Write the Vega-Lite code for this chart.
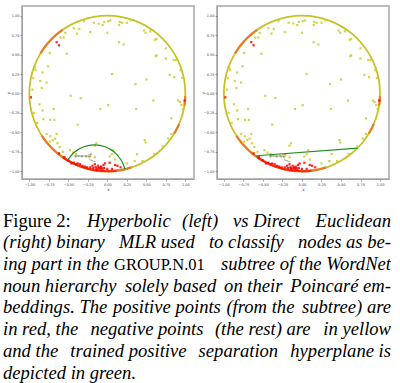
{
"$schema":"https://vega.github.io/schema/vega-lite/v6.json",
"padding":{"left":3,"top":5,"right":0,"bottom":0},
"background":"white",
"datasets":{
"pts":[
{"x":-0.43,"y":0.84,"c":"neg"},{"x":-0.36,"y":0.83,"c":"neg"},{"x":-0.39,"y":0.77,"c":"neg"},{"x":-0.22,"y":0.79,"c":"neg"},{"x":-0.17,"y":0.91,"c":"neg"},{"x":-0.11,"y":0.9,"c":"neg"},{"x":-0.06,"y":0.88,"c":"neg"},{"x":-0.04,"y":0.92,"c":"neg"},{"x":0.01,"y":0.93,"c":"neg"},{"x":0.04,"y":0.94,"c":"neg"},{"x":0.0,"y":0.78,"c":"neg"},{"x":0.15,"y":0.88,"c":"neg"},{"x":0.16,"y":0.92,"c":"neg"},{"x":0.19,"y":0.91,"c":"neg"},{"x":0.25,"y":0.91,"c":"neg"},{"x":0.15,"y":0.66,"c":"neg"},{"x":0.21,"y":0.63,"c":"neg"},{"x":0.47,"y":0.81,"c":"neg"},{"x":0.49,"y":0.78,"c":"neg"},{"x":0.61,"y":0.69,"c":"neg"},{"x":0.63,"y":0.7,"c":"neg"},{"x":-0.54,"y":0.78,"c":"neg"},{"x":-0.6,"y":0.72,"c":"neg"},{"x":-0.56,"y":0.72,"c":"neg"},{"x":0.63,"y":0.49,"c":"neg"},{"x":0.62,"y":0.48,"c":"neg"},{"x":0.75,"y":0.58,"c":"neg"},{"x":0.75,"y":0.45,"c":"neg"},{"x":0.85,"y":0.43,"c":"neg"},{"x":0.88,"y":0.43,"c":"neg"},{"x":-0.74,"y":0.52,"c":"neg"},{"x":-0.52,"y":0.51,"c":"neg"},{"x":-0.76,"y":0.35,"c":"neg"},{"x":-0.83,"y":0.27,"c":"neg"},{"x":-0.78,"y":0.14,"c":"neg"},{"x":-0.86,"y":0.16,"c":"neg"},{"x":-0.84,"y":0.07,"c":"neg"},{"x":0.06,"y":0.25,"c":"neg"},{"x":0.36,"y":0.12,"c":"neg"},{"x":0.5,"y":0.18,"c":"neg"},{"x":0.8,"y":0.24,"c":"neg"},{"x":0.86,"y":0.21,"c":"neg"},{"x":-0.47,"y":-0.03,"c":"neg"},{"x":-0.34,"y":-0.06,"c":"neg"},{"x":-0.09,"y":-0.2,"c":"neg"},{"x":0.01,"y":-0.15,"c":"neg"},{"x":-0.87,"y":-0.14,"c":"neg"},{"x":-0.83,"y":-0.22,"c":"neg"},{"x":-0.69,"y":-0.2,"c":"neg"},{"x":-0.82,"y":-0.33,"c":"neg"},{"x":-0.73,"y":-0.34,"c":"neg"},{"x":-0.68,"y":-0.34,"c":"neg"},{"x":-0.38,"y":-0.4,"c":"neg"},{"x":0.37,"y":-0.2,"c":"neg"},{"x":0.59,"y":-0.09,"c":"neg"},{"x":0.82,"y":-0.32,"c":"neg"},{"x":0.91,"y":-0.09,"c":"neg"},{"x":0.93,"y":-0.11,"c":"neg"},{"x":0.95,"y":-0.15,"c":"neg"},{"x":-0.78,"y":-0.52,"c":"neg"},{"x":-0.73,"y":-0.55,"c":"neg"},{"x":-0.67,"y":-0.58,"c":"neg"},{"x":-0.65,"y":-0.52,"c":"neg"},{"x":-0.7,"y":-0.6,"c":"neg"},{"x":-0.64,"y":-0.64,"c":"neg"},{"x":-0.61,"y":-0.69,"c":"neg"},{"x":-0.74,"y":-0.62,"c":"neg"},{"x":0.48,"y":-0.6,"c":"neg"},{"x":0.49,"y":-0.63,"c":"neg"},{"x":0.38,"y":-0.78,"c":"neg"},{"x":0.82,"y":-0.52,"c":"neg"},{"x":0.78,"y":-0.58,"c":"neg"},{"x":0.71,"y":-0.68,"c":"neg"},{"x":-0.57,"y":-0.75,"c":"neg"},{"x":-0.48,"y":-0.73,"c":"neg"},{"x":-0.44,"y":-0.76,"c":"neg"},{"x":-0.4,"y":-0.78,"c":"neg"},{"x":-0.14,"y":-0.64,"c":"neg"},{"x":-0.16,"y":-0.67,"c":"neg"},{"x":-0.21,"y":-0.78,"c":"neg"},{"x":-0.16,"y":-0.82,"c":"neg"},{"x":-0.23,"y":-0.82,"c":"neg"},{"x":-0.27,"y":-0.81,"c":"neg"},{"x":0.03,"y":-0.81,"c":"neg"},{"x":0.08,"y":-0.73,"c":"neg"},{"x":0.06,"y":-0.78,"c":"neg"},{"x":0.35,"y":-0.87,"c":"neg"},{"x":0.25,"y":-0.9,"c":"neg"},{"x":0.1,"y":-0.85,"c":"neg"},{"x":-0.95,"y":0.2,"c":"neg"},{"x":-0.96,"y":0.05,"c":"neg"},{"x":-0.94,"y":-0.25,"c":"neg"},{"x":-0.92,"y":0.3,"c":"neg"},{"x":0.96,"y":0.2,"c":"neg"},{"x":0.94,"y":0.3,"c":"neg"},{"x":0.97,"y":-0.2,"c":"neg"},{"x":0.3,"y":0.94,"c":"neg"},{"x":-0.3,"y":0.93,"c":"neg"},{"x":0.55,"y":0.8,"c":"neg"},{"x":-0.9,"y":-0.38,"c":"neg"},{"x":0.6,"y":-0.78,"c":"neg"},{"x":0.45,"y":-0.87,"c":"neg"},{"x":-0.93,"y":0.33,"c":"neg"},
{"x":-0.5,"y":-0.86,"c":"pos"},{"x":-0.46,"y":-0.9,"c":"pos"},{"x":-0.43,"y":-0.89,"c":"pos"},{"x":-0.4,"y":-0.91,"c":"pos"},{"x":-0.38,"y":-0.9,"c":"pos"},{"x":-0.35,"y":-0.91,"c":"pos"},{"x":-0.32,"y":-0.93,"c":"pos"},{"x":-0.29,"y":-0.94,"c":"pos"},{"x":-0.26,"y":-0.95,"c":"pos"},{"x":-0.22,"y":-0.95,"c":"pos"},{"x":-0.19,"y":-0.93,"c":"pos"},{"x":-0.18,"y":-0.96,"c":"pos"},{"x":-0.16,"y":-0.91,"c":"pos"},{"x":-0.15,"y":-0.95,"c":"pos"},{"x":-0.14,"y":-0.96,"c":"pos"},{"x":-0.13,"y":-0.98,"c":"pos"},{"x":-0.12,"y":-0.93,"c":"pos"},{"x":-0.11,"y":-0.96,"c":"pos"},{"x":-0.1,"y":-0.95,"c":"pos"},{"x":-0.09,"y":-0.97,"c":"pos"},{"x":-0.08,"y":-0.94,"c":"pos"},{"x":-0.07,"y":-0.96,"c":"pos"},{"x":-0.06,"y":-0.98,"c":"pos"},{"x":-0.05,"y":-0.92,"c":"pos"},{"x":-0.04,"y":-0.96,"c":"pos"},{"x":-0.03,"y":-0.9,"c":"pos"},{"x":0.0,"y":-0.97,"c":"pos"},{"x":0.03,"y":-0.89,"c":"pos"},{"x":0.06,"y":-0.97,"c":"pos"},{"x":0.1,"y":-0.92,"c":"pos"},{"x":0.13,"y":-0.93,"c":"pos"},{"x":0.17,"y":-0.95,"c":"pos"},{"x":-0.55,"y":-0.82,"c":"pos"},{"x":-0.62,"y":-0.77,"c":"pos"},{"x":-0.65,"y":0.66,"c":"pos"},{"x":-0.62,"y":0.62,"c":"pos"},{"x":0.99,"y":-0.09,"c":"pos"},{"x":-0.98,"y":-0.05,"c":"pos"}
],
"ring":[
{"i":0,"x":1,"y":0},{"i":1,"x":0.985,"y":0.174},{"i":2,"x":0.94,"y":0.342},{"i":3,"x":0.866,"y":0.5},{"i":4,"x":0.766,"y":0.643},{"i":5,"x":0.643,"y":0.766},{"i":6,"x":0.5,"y":0.866},{"i":7,"x":0.342,"y":0.94},{"i":8,"x":0.174,"y":0.985},{"i":9,"x":0,"y":1},{"i":10,"x":-0.174,"y":0.985},{"i":11,"x":-0.342,"y":0.94},{"i":12,"x":-0.5,"y":0.866},{"i":13,"x":-0.643,"y":0.766},{"i":14,"x":-0.766,"y":0.643},{"i":15,"x":-0.866,"y":0.5},{"i":16,"x":-0.94,"y":0.342},{"i":17,"x":-0.985,"y":0.174},{"i":18,"x":-1,"y":0},{"i":19,"x":-0.985,"y":-0.174},{"i":20,"x":-0.94,"y":-0.342},{"i":21,"x":-0.866,"y":-0.5},{"i":22,"x":-0.766,"y":-0.643},{"i":23,"x":-0.643,"y":-0.766},{"i":24,"x":-0.5,"y":-0.866},{"i":25,"x":-0.342,"y":-0.94},{"i":26,"x":-0.174,"y":-0.985},{"i":27,"x":0,"y":-1},{"i":28,"x":0.174,"y":-0.985},{"i":29,"x":0.342,"y":-0.94},{"i":30,"x":0.5,"y":-0.866},{"i":31,"x":0.643,"y":-0.766},{"i":32,"x":0.766,"y":-0.643},{"i":33,"x":0.866,"y":-0.5},{"i":34,"x":0.94,"y":-0.342},{"i":35,"x":0.985,"y":-0.174},{"i":36,"x":1,"y":0}
],
"arcs":[
{"s":"a","i":0,"x":-0.574,"y":0.819},{"s":"a","i":1,"x":-0.643,"y":0.766},{"s":"a","i":2,"x":-0.707,"y":0.707},{"s":"a","i":3,"x":-0.766,"y":0.643},{"s":"a","i":4,"x":-0.819,"y":0.574},{"s":"a","i":5,"x":-0.857,"y":0.515},
{"s":"b","i":0,"x":-0.839,"y":-0.545},{"s":"b","i":1,"x":-0.766,"y":-0.643},{"s":"b","i":2,"x":-0.643,"y":-0.766},{"s":"b","i":3,"x":-0.5,"y":-0.866},{"s":"b","i":4,"x":-0.342,"y":-0.94},{"s":"b","i":5,"x":-0.174,"y":-0.985},{"s":"b","i":6,"x":0,"y":-1},{"s":"b","i":7,"x":0.174,"y":-0.985},{"s":"b","i":8,"x":0.309,"y":-0.951},
{"s":"c","i":0,"x":0.988,"y":-0.156},{"s":"c","i":1,"x":0.996,"y":-0.087},{"s":"c","i":2,"x":0.999,"y":-0.035},
{"s":"d","i":0,"x":0.857,"y":-0.515},{"s":"d","i":1,"x":0.891,"y":-0.454},{"s":"d","i":2,"x":0.921,"y":-0.391}
],
"reds":[
{"i":0,"x":-0.574,"y":-0.819},{"i":1,"x":-0.5,"y":-0.866},{"i":2,"x":-0.342,"y":-0.94},{"i":3,"x":-0.174,"y":-0.985},{"i":4,"x":0,"y":-1},{"i":5,"x":0.122,"y":-0.993}
],
"geo":[
{"i":0,"x":-0.506,"y":-0.853},{"i":1,"x":-0.422,"y":-0.756},{"i":2,"x":-0.302,"y":-0.686},{"i":3,"x":-0.165,"y":-0.662},{"i":4,"x":-0.028,"y":-0.686},{"i":5,"x":0.092,"y":-0.756},{"i":6,"x":0.181,"y":-0.862},{"i":7,"x":0.225,"y":-0.971}
],
"hyp":[{"i":0,"x":-0.586,"y":-0.801},{"i":1,"x":0.714,"y":-0.703}],
"lab":[{"x":-0.42,"y":-0.8,"t":"group.n.01"}],
"arrow":[{"x":-0.23,"y":-0.85,"x2":-0.15,"y2":-0.88}],
"cap":[
{"line":1,"p":"F","t":"Figure 2:"},
{"line":1,"p":"H","t":"Hyperbolic"},
{"line":1,"p":"M1","t":"(left)"},
{"line":1,"p":"N1","t":"vs Direct"},
{"line":1,"p":"R","t":"Euclidean"},
{"line":2,"p":"L","t":"(right) binary"},
{"line":2,"p":"M2","t":"MLR used"},
{"line":2,"p":"N2","t":"to classify"},
{"line":2,"p":"R","t":"nodes as be-"},
{"line":3,"p":"L","t":"ing part in the"},
{"line":3,"p":"G","t":"GROUP.N.01"},
{"line":3,"p":"R","t":"subtree of the WordNet"},
{"line":4,"p":"L","t":"noun hierarchy"},
{"line":4,"p":"M4","t":"solely based"},
{"line":4,"p":"N4","t":"on their"},
{"line":4,"p":"R","t":"Poincaré em-"},
{"line":5,"p":"L","t":"beddings. The"},
{"line":5,"p":"M5","t":"positive points"},
{"line":5,"p":"N5","t":"(from the"},
{"line":5,"p":"R","t":"subtree) are"},
{"line":6,"p":"L","t":"in red, the"},
{"line":6,"p":"M6","t":"negative points"},
{"line":6,"p":"N6","t":"(the rest) are"},
{"line":6,"p":"R","t":"in yellow"},
{"line":7,"p":"L","t":"and the"},
{"line":7,"p":"M7","t":"trained positive"},
{"line":7,"p":"N7","t":"separation"},
{"line":7,"p":"R","t":"hyperplane is"},
{"line":8,"p":"L","t":"depicted in green."}
]
},
"vconcat":[
{"hconcat":[
{"width":172,"height":173,
 "encoding":{
  "x":{"field":"x","type":"quantitative","scale":{"domain":[-1.094,1.111],"nice":false,"zero":false},"axis":{"values":[-1,-0.75,-0.5,-0.25,0,0.25,0.5,0.75,1],"format":".2f","title":"x"}},
  "y":{"field":"y","type":"quantitative","scale":{"domain":[-1.1,1.125],"nice":false,"zero":false},"axis":{"values":[-1,-0.75,-0.5,-0.25,0,0.25,0.5,0.75,1],"format":".2f","title":"y"}}
 },
 "layer":[
  {"data":{"name":"ring"},"mark":{"type":"line","color":"#c6c224","strokeWidth":1.8,"interpolate":"cardinal"},"encoding":{"order":{"field":"i"}}},
  {"data":{"name":"arcs"},"mark":{"type":"line","color":"#ea7a22","strokeWidth":2.2,"interpolate":"cardinal"},"encoding":{"detail":{"field":"s"},"order":{"field":"i"}}},
  {"data":{"name":"reds"},"mark":{"type":"line","color":"#f52a10","strokeWidth":2,"interpolate":"cardinal"},"encoding":{"order":{"field":"i"}}},
  {"data":{"name":"pts"},"mark":{"type":"point","shape":"square","filled":true,"size":5,"opacity":0.85},"encoding":{"color":{"field":"c","type":"nominal","scale":{"domain":["neg","pos"],"range":["#cccc30","#ff0000"]},"legend":null},"order":{"field":"c"}}},
  {"data":{"name":"geo"},"mark":{"type":"line","color":"#1f8f1f","strokeWidth":1.2,"interpolate":"cardinal"},"encoding":{"order":{"field":"i"}}},
  {"data":{"name":"lab"},"mark":{"type":"text","align":"left","baseline":"middle","fontSize":3.5,"color":"#333"},"encoding":{"text":{"field":"t"}}},
  {"data":{"name":"arrow"},"mark":{"type":"rule","color":"#666","strokeWidth":0.6},"encoding":{"x2":{"field":"x2"},"y2":{"field":"y2"}}}
 ]},
{"width":172,"height":173,
 "encoding":{
  "x":{"field":"x","type":"quantitative","scale":{"domain":[-1.088,1.115],"nice":false,"zero":false},"axis":{"values":[-1,-0.75,-0.5,-0.25,0,0.25,0.5,0.75,1],"format":".2f","title":"x"}},
  "y":{"field":"y","type":"quantitative","scale":{"domain":[-1.1,1.125],"nice":false,"zero":false},"axis":{"values":[-1,-0.75,-0.5,-0.25,0,0.25,0.5,0.75,1],"format":".2f","title":"y"}}
 },
 "layer":[
  {"data":{"name":"ring"},"mark":{"type":"line","color":"#c6c224","strokeWidth":1.8,"interpolate":"cardinal"},"encoding":{"order":{"field":"i"}}},
  {"data":{"name":"arcs"},"mark":{"type":"line","color":"#ea7a22","strokeWidth":2.2,"interpolate":"cardinal"},"encoding":{"detail":{"field":"s"},"order":{"field":"i"}}},
  {"data":{"name":"reds"},"mark":{"type":"line","color":"#f52a10","strokeWidth":2,"interpolate":"cardinal"},"encoding":{"order":{"field":"i"}}},
  {"data":{"name":"pts"},"mark":{"type":"point","shape":"square","filled":true,"size":5,"opacity":0.85},"encoding":{"color":{"field":"c","type":"nominal","scale":{"domain":["neg","pos"],"range":["#cccc30","#ff0000"]},"legend":null},"order":{"field":"c"}}},
  {"data":{"name":"hyp"},"mark":{"type":"line","color":"#1f8f1f","strokeWidth":1.2},"encoding":{"order":{"field":"i"}}},
  {"data":{"name":"lab"},"mark":{"type":"text","align":"left","baseline":"middle","fontSize":3.5,"color":"#333"},"encoding":{"text":{"field":"t"}}},
  {"data":{"name":"arrow"},"mark":{"type":"rule","color":"#666","strokeWidth":0.6},"encoding":{"x2":{"field":"x2"},"y2":{"field":"y2"}}}
 ]}
],"spacing":5},
{"width":369,"height":180,"view":{"stroke":null},
 "data":{"name":"cap"},
 "encoding":{"y":{"field":"line","type":"quantitative","scale":{"domain":[1,8],"range":[24.5,176.5],"zero":false,"nice":false},"axis":null},"text":{"field":"t"},"x":{"value":0}},
 "layer":[
  {"transform":[{"filter":"datum.p=='L'"}],"mark":{"type":"text","align":"left","baseline":"alphabetic","font":"Liberation Serif","fontStyle":"italic","fontSize":18.6,"color":"black","dx":-19}},
  {"transform":[{"filter":"datum.p=='R'"}],"mark":{"type":"text","align":"right","baseline":"alphabetic","font":"Liberation Serif","fontStyle":"italic","fontSize":18.6,"color":"black"},"encoding":{"x":{"value":"width"}}},
  {"transform":[{"filter":"datum.p=='F'"}],"mark":{"type":"text","align":"left","baseline":"alphabetic","font":"Liberation Serif","fontSize":18.6,"color":"black","dx":-19}},
  {"transform":[{"filter":"datum.p=='H'"}],"mark":{"type":"text","align":"left","baseline":"alphabetic","font":"Liberation Serif","fontStyle":"italic","fontSize":18.6,"color":"black","dx":65}},
  {"transform":[{"filter":"datum.p=='G'"}],"mark":{"type":"text","align":"left","baseline":"alphabetic","font":"Liberation Serif","fontSize":16.5,"color":"black","dx":92}},
  {"transform":[{"filter":"datum.p=='M1'"}],"mark":{"type":"text","align":"left","baseline":"alphabetic","font":"Liberation Serif","fontStyle":"italic","fontSize":18.6,"color":"black","dx":160}},
  {"transform":[{"filter":"datum.p=='N1'"}],"mark":{"type":"text","align":"left","baseline":"alphabetic","font":"Liberation Serif","fontStyle":"italic","fontSize":18.6,"color":"black","dx":211}},
  {"transform":[{"filter":"datum.p=='M2'"}],"mark":{"type":"text","align":"left","baseline":"alphabetic","font":"Liberation Serif","fontStyle":"italic","fontSize":18.6,"color":"black","dx":96.9}},
  {"transform":[{"filter":"datum.p=='N2'"}],"mark":{"type":"text","align":"left","baseline":"alphabetic","font":"Liberation Serif","fontStyle":"italic","fontSize":18.6,"color":"black","dx":186.9}},
  {"transform":[{"filter":"datum.p=='M4'"}],"mark":{"type":"text","align":"left","baseline":"alphabetic","font":"Liberation Serif","fontStyle":"italic","fontSize":18.6,"color":"black","dx":102.9}},
  {"transform":[{"filter":"datum.p=='N4'"}],"mark":{"type":"text","align":"left","baseline":"alphabetic","font":"Liberation Serif","fontStyle":"italic","fontSize":18.6,"color":"black","dx":202.1}},
  {"transform":[{"filter":"datum.p=='M5'"}],"mark":{"type":"text","align":"left","baseline":"alphabetic","font":"Liberation Serif","fontStyle":"italic","fontSize":18.6,"color":"black","dx":90.9}},
  {"transform":[{"filter":"datum.p=='N5'"}],"mark":{"type":"text","align":"left","baseline":"alphabetic","font":"Liberation Serif","fontStyle":"italic","fontSize":18.6,"color":"black","dx":204.4}},
  {"transform":[{"filter":"datum.p=='M6'"}],"mark":{"type":"text","align":"left","baseline":"alphabetic","font":"Liberation Serif","fontStyle":"italic","fontSize":18.6,"color":"black","dx":68.4}},
  {"transform":[{"filter":"datum.p=='N6'"}],"mark":{"type":"text","align":"left","baseline":"alphabetic","font":"Liberation Serif","fontStyle":"italic","fontSize":18.6,"color":"black","dx":192.9}},
  {"transform":[{"filter":"datum.p=='M7'"}],"mark":{"type":"text","align":"left","baseline":"alphabetic","font":"Liberation Serif","fontStyle":"italic","fontSize":18.6,"color":"black","dx":48.3}},
  {"transform":[{"filter":"datum.p=='N7'"}],"mark":{"type":"text","align":"left","baseline":"alphabetic","font":"Liberation Serif","fontStyle":"italic","fontSize":18.6,"color":"black","dx":176.6}}
 ]}
],
"spacing":9,
"config":{
 "view":{"stroke":"#bbbbbb","strokeWidth":2},
 "axis":{"grid":false,"labelFont":"DejaVu Sans","labelFontSize":3.5,"labelColor":"#444","tickSize":2,"tickColor":"#666","tickWidth":0.6,"domainColor":"#999","domainWidth":0.8,"labelPadding":1,"titleFont":"DejaVu Sans","titleFontSize":4,"titleFontWeight":"normal","titleColor":"#444","titlePadding":2},
 "axisY":{"minExtent":10,"maxExtent":10}
}
}
